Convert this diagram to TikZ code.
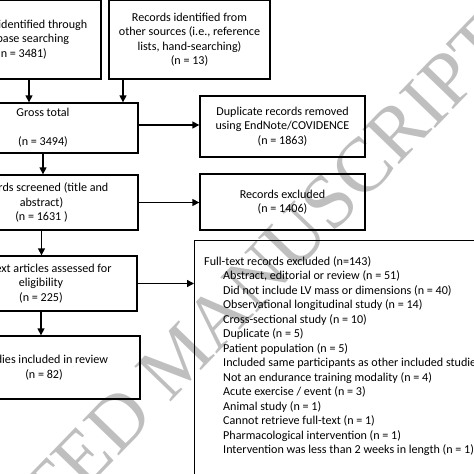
\documentclass[tikz,border=0pt]{standalone}
\usepackage{fontspec}
\setmainfont{Carlito}
\newfontfamily\stampfont{Liberation Serif}
\usepackage{xcolor}
\usepackage{tikz}
\usetikzlibrary{arrows.meta}

\begin{document}
\begin{tikzpicture}[
  x=1pt, y=-1pt,
  box/.style={draw=black, line width=1.3pt, align=center, inner sep=0pt,
              font=\fontsize{12.1}{14.5}\selectfont},
  arr/.style={-{Triangle[length=7pt,width=7pt]}, line width=1.3pt, draw=black},
  listtext/.style={align=left, inner sep=0pt, anchor=north west,
              font=\fontsize{12.1}{14.5}\selectfont}
]
  \useasboundingbox (0,0) rectangle (474,474);
  \clip (0,0) rectangle (474,474);

  % Watermark
  \node[text=black!25, rotate=46, inner sep=0pt, font=\stampfont\fontsize{77}{77}\selectfont]
    (stamp) at (178.5,358) {ACCEPTED MANUSCRIPT};

  % Nodes
  \node[box, minimum width=158, minimum height=79]  (db)     at (22,39.5)    {Records identified through\\database searching\\(n = 3481)};
  \node[box, minimum width=161, minimum height=79]  (other)  at (189.5,39.5) {Records identified from\\other sources (i.e., reference\\lists, hand-searching)\\(n = 13)};
  \node[box, minimum width=190, minimum height=50]  (gross)  at (43,128)     {Gross total\\[14.5pt](n = 3494)};
  \node[box, minimum width=165, minimum height=61]  (dup)    at (282.5,126.5) {Duplicate records removed\\using EndNote/COVIDENCE\\(n = 1863)};
  \node[box, minimum width=193, minimum height=55]  (screen) at (41.5,202.5) {Records screened (title and\\abstract)\\(n = 1631 )};
  \node[box, minimum width=165, minimum height=56]  (excl)   at (282.5,202)  {Records excluded\\(n = 1406)};
  \node[box, minimum width=192, minimum height=55]  (full)   at (41,283.5)   {Full-text articles assessed for\\eligibility\\(n = 225)};
  \node[box, minimum width=192, minimum height=63]  (incl)   at (44,367.5)   {Studies included in review\\(n = 82)};
  \node[box, minimum width=330, minimum height=260, anchor=north west] (big) at (194,240) {};

  % Reasons for exclusion
  \node[listtext] (reasons) at ([xshift=10pt,yshift=-16pt]big.north west) {%
    Full-text records excluded (n=143)\\
    \hspace*{19pt}Abstract, editorial or review (n = 51)\\
    \hspace*{19pt}Did not include LV mass or dimensions (n = 40)\\
    \hspace*{19pt}Observational longitudinal study (n = 14)\\
    \hspace*{19pt}Cross-sectional study (n = 10)\\
    \hspace*{19pt}Duplicate (n = 5)\\
    \hspace*{19pt}Patient population (n = 5)\\
    \hspace*{19pt}Included same participants as other included studies\\
    \hspace*{19pt}Not an endurance training modality (n = 4)\\
    \hspace*{19pt}Acute exercise / event (n = 3)\\
    \hspace*{19pt}Animal study (n = 1)\\
    \hspace*{19pt}Cannot retrieve full-text (n = 1)\\
    \hspace*{19pt}Pharmacological intervention (n = 1)\\
    \hspace*{19pt}Intervention was less than 2 weeks in length (n = 1)};

  % Flow arrows
  \draw[arr] ([xshift=7pt]db.south) -- ([xshift=7pt]db.south |- gross.north);
  \draw[arr] ([xshift=-66.5pt]other.south) -- ([xshift=-66.5pt]other.south |- gross.north);
  \draw[arr] ([yshift=3pt]gross.east) -- ([yshift=3pt]gross.east -| dup.west);
  \draw[arr] (gross.south) -- (gross.south |- screen.north);
  \draw[arr] (screen.east) -- (screen.east -| excl.west);
  \draw[arr] (screen.south) -- (screen.south |- full.north);
  \draw[arr] (full.east) -- (full.east -| big.west);
  \draw[arr] (full.south) -- (full.south |- incl.north);
\end{tikzpicture}
\end{document}
